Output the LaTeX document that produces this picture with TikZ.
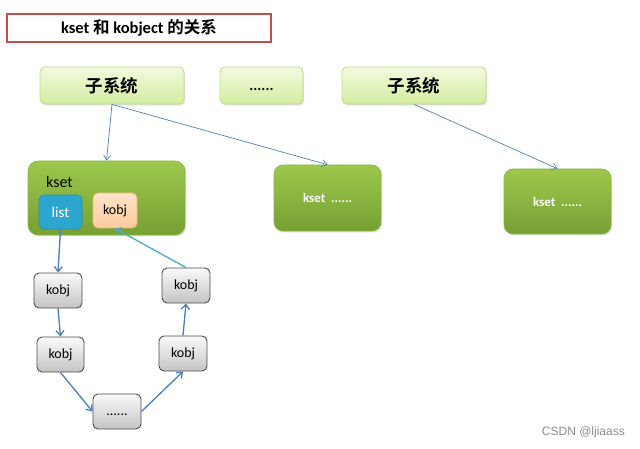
\documentclass[tikz,border=0pt]{standalone}
\usepackage{fontspec}
\setmainfont{Carlito}
\newfontfamily\cjk{Noto Sans CJK SC}[BoldFont={Noto Sans CJK SC Bold}]
\newfontfamily\wmfont{Liberation Sans}
\usetikzlibrary{arrows.meta,shadows}
\definecolor{titlered}{HTML}{C0504D}
\definecolor{subtop}{HTML}{F3FAE2}
\definecolor{subbot}{HTML}{D3EC9E}
\definecolor{subdraw}{HTML}{BFDD80}
\definecolor{ksettop}{HTML}{9DC84C}
\definecolor{ksetbot}{HTML}{75A033}
\definecolor{ksetdraw}{HTML}{8AB542}
\definecolor{listblue}{HTML}{2CA6CF}
\definecolor{peachtop}{HTML}{FFE3C8}
\definecolor{peachbot}{HTML}{FCCB9C}
\definecolor{peachdraw}{HTML}{F6B27A}
\definecolor{graytop}{HTML}{FAFAFA}
\definecolor{graybot}{HTML}{C4C4C4}
\definecolor{graydraw}{HTML}{4D4D4D}
\definecolor{thinblue}{HTML}{4F81BD}
\definecolor{thickblue}{HTML}{4A7EBB}
\definecolor{cyanarr}{HTML}{4BACC6}
\tikzset{
  subbox/.style={draw=subdraw,line width=0.8pt,rounded corners=5pt,top color=subtop,bottom color=subbot,
    minimum width=144pt,minimum height=37pt,inner sep=0pt,font=\cjk\bfseries\fontsize{17.5}{20}\selectfont,
    drop shadow={shadow xshift=1pt,shadow yshift=-1.5pt,opacity=0.25}},
  ksetbox/.style={draw=ksetdraw,line width=0.6pt,rounded corners=9pt,top color=ksettop,bottom color=ksetbot,
    minimum width=107pt,inner sep=0pt,text=white,font=\bfseries\fontsize{13}{15}\selectfont,
    drop shadow={shadow xshift=1pt,shadow yshift=-1.5pt,opacity=0.25}},
  chainbox/.style={draw=graydraw,line width=0.9pt,rounded corners=5pt,top color=graytop,bottom color=graybot,
    minimum width=48pt,minimum height=35pt,inner sep=0pt,font=\fontsize{14}{16}\selectfont},
  thinarr/.style={draw=thinblue,line width=0.7pt,-{Straight Barb[length=5pt,width=7pt]}},
  thickarr/.style={draw=thickblue,line width=1.3pt,-{Straight Barb[length=5pt,width=8pt,line width=1.3pt]}},
  cyanarrow/.style={draw=cyanarr,line width=1.3pt,-{Straight Barb[length=5pt,width=8pt,line width=1.3pt]}},
}
\begin{document}
\begin{tikzpicture}[x=1pt,y=-1pt]
\useasboundingbox[fill=white] (0,0) rectangle (640,449);
% title
\node[draw=titlered,line width=1.2pt,fill=white,minimum width=264pt,minimum height=28pt,inner sep=0pt,
  font=\bfseries\fontsize{16.5}{18}\selectfont] (title) at (139,28) {kset {\cjk\bfseries 和} kobject {\cjk\bfseries 的关系}};
% subsystems
\node[subbox] (s1) at (112,85.5) {子系统};
\node[subbox,minimum width=83pt,font=\bfseries\fontsize{15}{17}\selectfont] (sd) at (261.5,85.5) {\smash{\raisebox{-5pt}{......}}};
\node[subbox] (s2) at (414,85.5) {子系统};
% ksets
\node[ksetbox,minimum width=157pt,minimum height=74pt,rounded corners=10pt] (k1) at (106.5,198) {};
\node[font=\fontsize{16}{18}\selectfont,anchor=west,inner sep=0pt] (k1lab) at (46,182) {kset};
\node[draw=listblue!85!black,line width=0.6pt,fill=listblue,rounded corners=5pt,minimum width=43pt,minimum height=34pt,
  inner sep=0pt,text=white,font=\fontsize{15}{17}\selectfont] (list) at (60.5,212) {list};
\node[draw=peachdraw,line width=0.8pt,top color=peachtop,bottom color=peachbot,rounded corners=5pt,minimum width=44pt,
  minimum height=35pt,inner sep=0pt,font=\fontsize{14}{16}\selectfont] (kin) at (115,210.5) {kobj};
\node[ksetbox,minimum height=66pt] (k2) at (327.5,198) {kset\ \ ......};
\node[ksetbox,minimum height=65pt] (k3) at (557.5,201.5) {kset\ \ ......};
% chain
\node[chainbox] (c1) at (58,290.5) {kobj};
\node[chainbox,minimum width=47pt] (c2) at (60.5,354.5) {kobj};
\node[chainbox] (c3) at (117,411.5) {\smash{\raisebox{-4pt}{......}}};
\node[chainbox] (c4) at (183,353.5) {kobj};
\node[chainbox] (c5) at (186,285.5) {kobj};
% arrows
\draw[thinarr] (s1.south) -- (k1.north);
\draw[thinarr] (s1.south) -- (k2.north);
\draw[thinarr] (s2.south) -- (k3.north);
\draw[thickarr] (list.south) -- (c1.north);
\draw[thickarr] (c1.south) -- (c2.north);
\draw[thickarr] (c2.south) -- (c3.west);
\draw[thickarr] (c3.east) -- (c4.south);
\draw[thickarr] (c4.north) -- (c5.south);
\draw[cyanarrow] (c5.north) -- (kin.south);
% watermark
\node[text=black!45,font=\wmfont\fontsize{12}{14}\selectfont,anchor=east,inner sep=0pt] (wm) at (625,432) {CSDN @ljiaass};
\end{tikzpicture}
\end{document}
